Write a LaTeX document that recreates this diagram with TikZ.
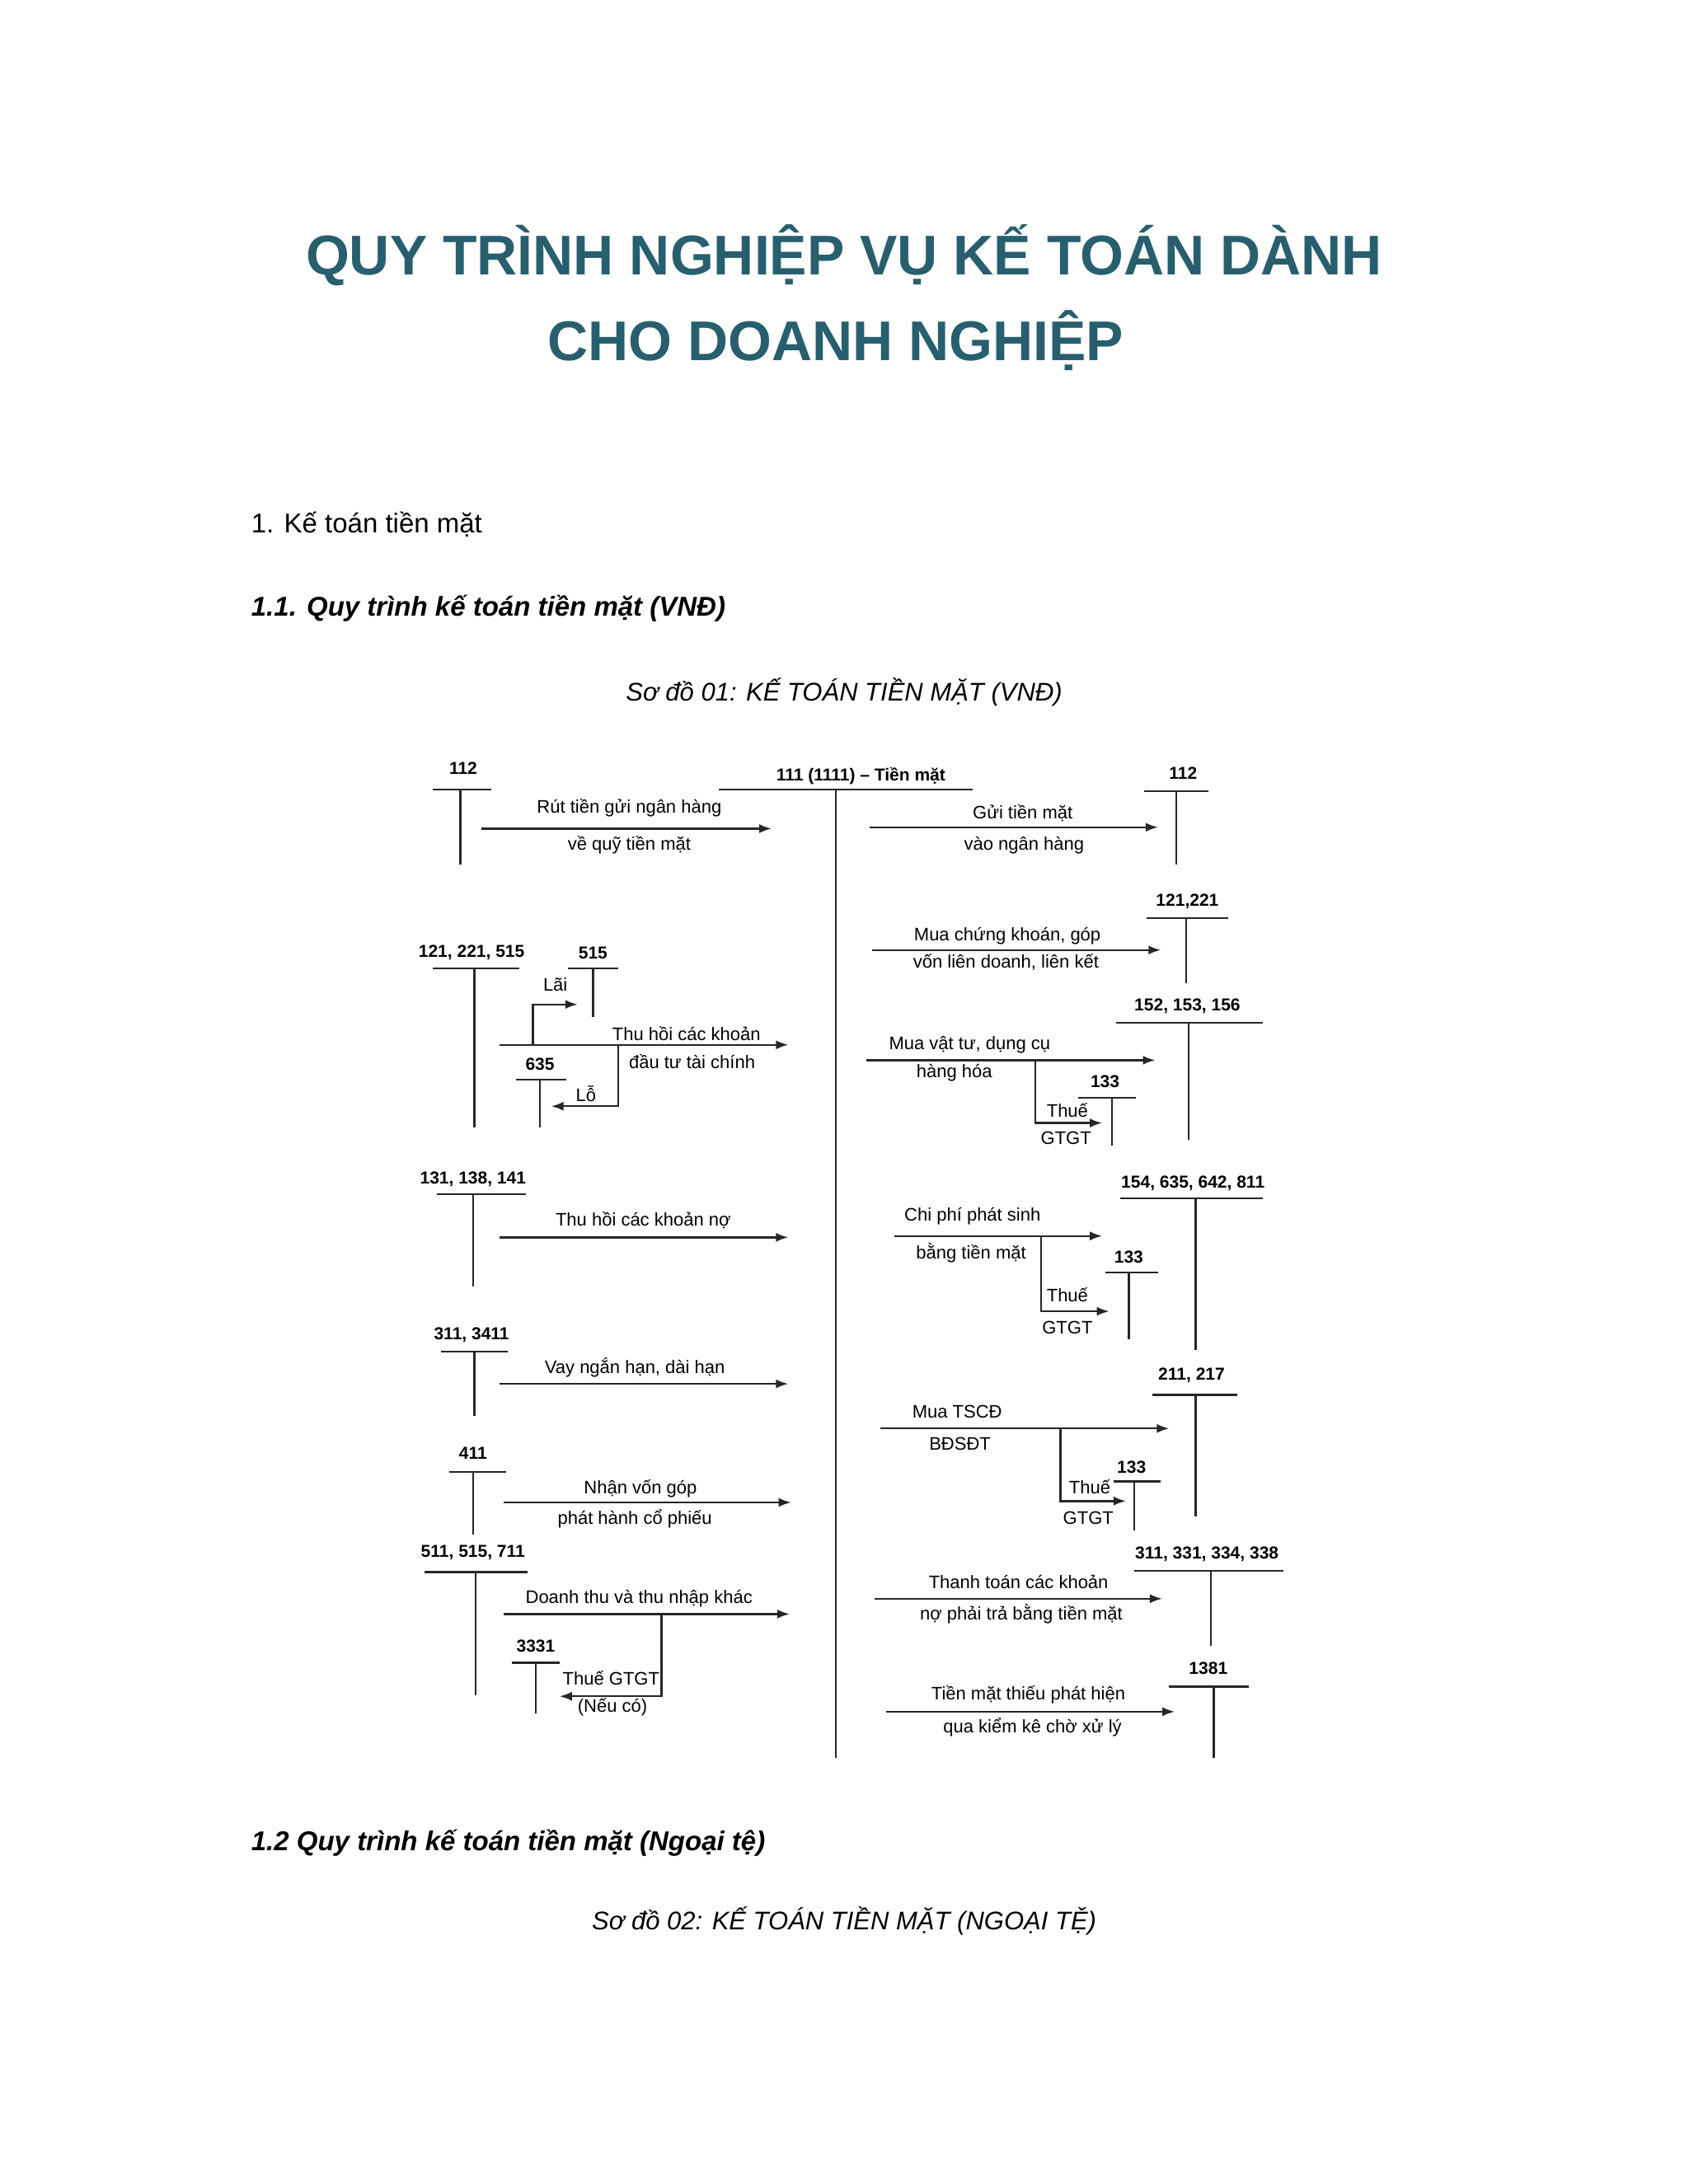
\documentclass[tikz,border=0pt]{standalone}
\usepackage{fontspec}
\setmainfont{Liberation Sans}
\usetikzlibrary{arrows.meta}
\definecolor{teal}{HTML}{285F6E}
\tikzset{
  tline/.style={line width=2.4pt,black!85},
  flow/.style={line width=2.4pt,black!85,-{Latex[length=15pt,width=11pt]}},
  num/.style={font=\fontsize{21}{24}\selectfont\bfseries,inner sep=0pt},
  lbl/.style={font=\fontsize{22}{26}\selectfont,inner sep=0pt},
  head/.style={font=\fontsize{33}{38}\selectfont,inner sep=0pt,anchor=west},
}
\newcommand\tacc[9]{%
  \node[num] (#1) at (#3,#4) {#2};
  \draw[tline] (#5,#7) coordinate (#1L) -- (#6,#7) coordinate (#1R);
  \draw[tline] (#8,#7) coordinate (#1T) -- (#8,#9) coordinate (#1B);}
\begin{document}
\begin{tikzpicture}[x=1.6926pt,y=-1.6926pt]
\useasboundingbox[fill=white] (0,0) rectangle (1210,1565.6);
% titles
\node[font=\fontsize{68}{80}\selectfont\bfseries,text=teal,inner sep=0pt] (t1) at (605,183) {QUY TRÌNH NGHIỆP VỤ KẾ TOÁN DÀNH};
\node[font=\fontsize{68}{80}\selectfont\bfseries,text=teal,inner sep=0pt] (t2) at (599,244) {CHO DOANH NGHIỆP};
\node[head] (h1) at (180,376) {1. Kế toán tiền mặt};
\node[head,font=\fontsize{33}{38}\selectfont\bfseries\itshape] (h2) at (180,436) {1.1. Quy trình kế toán tiền mặt (VNĐ)};
\node[font=\fontsize{31}{36}\selectfont\itshape,inner sep=0pt] (c1) at (605,496) {Sơ đồ 01: KẾ TOÁN TIỀN MẶT (VNĐ)};
\node[head,font=\fontsize{33}{38}\selectfont\bfseries\itshape] (h3) at (180,1321) {1.2 Quy trình kế toán tiền mặt (Ngoại tệ)};
\node[font=\fontsize{31}{36}\selectfont\itshape,inner sep=0pt] (c2) at (605,1377) {Sơ đồ 02: KẾ TOÁN TIỀN MẶT (NGOẠI TỆ)};
% central account
\tacc{tm}{111 (1111) – Tiền mặt}{617}{556}{515}{697}{566}{599}{1260}
% ---- left side
\tacc{a}{112}{332}{551}{310}{352}{566}{330}{620}
\draw[flow] (345,594) coordinate (aS) -- (553,594) coordinate (aE);
\node[lbl] (a1) at (451,579) {Rút tiền gửi ngân hàng};
\node[lbl] (a2) at (451,606) {về quỹ tiền mặt};

\tacc{b}{121, 221, 515}{338}{683}{310}{372}{694}{340}{808}
\tacc{bb}{515}{425}{683}{407}{443}{694}{425}{729}
\tacc{bc}{635}{387}{763}{370}{406}{774}{387}{808}
\draw[flow] (358,749) coordinate (bS) -- (565,749) coordinate (bE);
\draw[flow] (382,749) coordinate (bl1) |- (414,720) coordinate (bl2);
\draw[flow] (443,749) coordinate (bo1) |- (395,793) coordinate (bo2);
\node[lbl] (b0) at (398,706) {Lãi};
\node[lbl] (b3) at (420,784) {Lỗ};
\node[lbl] (b1) at (492,741) {Thu hồi các khoản};
\node[lbl] (b2) at (496,761) {đầu tư tài chính};

\tacc{c}{131, 138, 141}{339}{845}{313}{377}{856}{339}{922}
\draw[flow] (358,887) coordinate (cS) -- (565,887) coordinate (cE);
\node[lbl] (c1t) at (461,875) {Thu hồi các khoản nợ};

\tacc{d}{311, 3411}{338}{957}{316}{364}{969}{340}{1015}
\draw[flow] (358,992) coordinate (dS) -- (565,992) coordinate (dE);
\node[lbl] (d1) at (455,980) {Vay ngắn hạn, dài hạn};

\tacc{e}{411}{339}{1042}{322}{363}{1055}{339}{1100}
\draw[flow] (361,1077) coordinate (eS) -- (567,1077) coordinate (eE);
\node[lbl] (e1) at (459,1067) {Nhận vốn góp};
\node[lbl] (e2) at (455,1089) {phát hành cổ phiếu};

\tacc{f}{511, 515, 711}{339}{1113}{304}{378}{1127}{341}{1215}
\tacc{ff}{3331}{384}{1180}{367}{401}{1192}{384}{1228}
\draw[flow] (361,1157) coordinate (fS) -- (566,1157) coordinate (fE);
\draw[flow] (474,1157) coordinate (fb1) |- (401,1216) coordinate (fb2);
\node[lbl] (f1) at (458,1146) {Doanh thu và thu nhập khác};
\node[lbl] (f2) at (438,1203) {Thuế GTGT};
\node[lbl] (f3) at (439,1224) {(Nếu có)};
% ---- right side
\tacc{g}{112}{848}{554}{820}{866}{567}{843}{620}
\draw[flow] (623,593) coordinate (gS) -- (830,593) coordinate (gE);
\node[lbl] (g1) at (733,583) {Gửi tiền mặt};
\node[lbl] (g2) at (734,606) {vào ngân hàng};

\tacc{h}{121,221}{851}{646}{822}{880}{658}{850}{705}
\draw[flow] (625,681) coordinate (hS) -- (832,681) coordinate (hE);
\node[lbl] (h1t) at (722,671) {Mua chứng khoán, góp};
\node[lbl] (h2t) at (721,690) {vốn liên doanh, liên kết};

\tacc{i}{152, 153, 156}{851}{721}{800}{905}{733}{852}{817}
\tacc{ii}{133}{792}{775}{773}{814}{787}{797}{821}
\draw[flow] (621,760) coordinate (iS) -- (828,760) coordinate (iE);
\draw[flow] (742,760) coordinate (ib1) |- (790,805) coordinate (ib2);
\node[lbl] (i1) at (695,749) {Mua vật tư, dụng cụ};
\node[lbl] (i2) at (684,769) {hàng hóa};
\node[lbl] (i3) at (765,796) {Thuế};
\node[lbl] (i4) at (764,816) {GTGT};

\tacc{j}{154, 635, 642, 811}{855}{848}{803}{905}{859}{857}{968}
\tacc{jj}{133}{809}{901}{792}{830}{912}{809}{960}
\draw[flow] (641,886) coordinate (jS) -- (790,886) coordinate (jE);
\draw[flow] (746,886) coordinate (jb1) |- (795,940) coordinate (jb2);
\node[lbl] (j1) at (697,872) {Chi phí phát sinh};
\node[lbl] (j2) at (696,898) {bằng tiền mặt};
\node[lbl] (j3) at (765,928) {Thuế};
\node[lbl] (j4) at (765,952) {GTGT};

\tacc{k}{211, 217}{854}{986}{826}{887}{1000}{857}{1087}
\tacc{kk}{133}{811}{1052}{798}{832}{1062}{813}{1097}
\draw[flow] (631,1024) coordinate (kS) -- (838,1024) coordinate (kE);
\draw[flow] (760,1024) coordinate (kb1) |- (807,1076) coordinate (kb2);
\node[lbl] (k1) at (686,1012) {Mua TSCĐ};
\node[lbl] (k2) at (688,1035) {BĐSĐT};
\node[lbl] (k3) at (781,1066) {Thuế};
\node[lbl] (k4) at (780,1088) {GTGT};

\tacc{l}{311, 331, 334, 338}{865}{1114}{813}{920}{1126}{868}{1180}
\draw[flow] (627,1146) coordinate (lS) -- (833,1146) coordinate (lE);
\node[lbl] (l1) at (730,1134) {Thanh toán các khoản};
\node[lbl] (l2) at (732,1157) {nợ phải trả bằng tiền mặt};

\tacc{m}{1381}{866}{1196}{838}{895}{1209}{870}{1260}
\draw[flow] (635,1227) coordinate (mS) -- (842,1227) coordinate (mE);
\node[lbl] (m1) at (737,1215) {Tiền mặt thiếu phát hiện};
\node[lbl] (m2) at (740,1238) {qua kiểm kê chờ xử lý};
\end{tikzpicture}
\end{document}
